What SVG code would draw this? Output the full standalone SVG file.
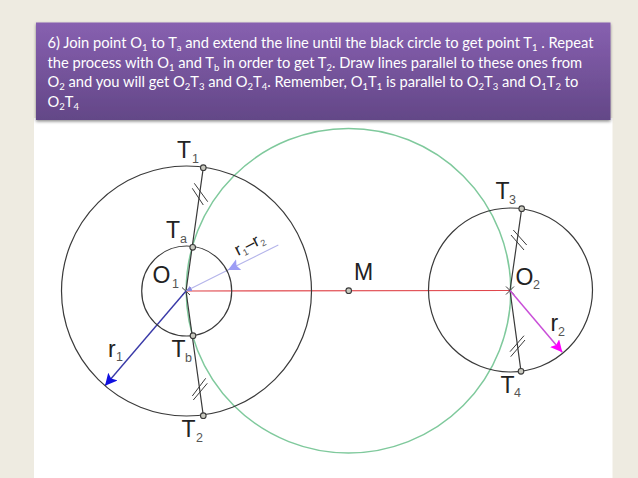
<svg xmlns="http://www.w3.org/2000/svg" width="638" height="478" viewBox="0 0 638 478">
<style>
.c{fill:none;stroke:#3a3a3a;stroke-width:1.2}
.l{stroke:#3a3a3a;stroke-width:1.2;fill:none}
.k{stroke:#3a3a3a;stroke-width:1;fill:none}
.p{fill:#c9c9bf;stroke:#3a3a3a;stroke-width:1.1}
.t{font-family:"Lato","Open Sans",sans-serif;font-size:14.700px;fill:#fff}
.s{font-size:9.500px}
.n{font-family:"Liberation Sans",Arial,sans-serif;font-size:23px;fill:#222}
.b{font-family:"Liberation Sans",Arial,sans-serif;font-size:12.500px;fill:#555}
</style>
<defs>
<linearGradient id="g" x1="0" y1="0" x2="0" y2="1"><stop offset="0" stop-color="#8760b0"/><stop offset="1" stop-color="#634787"/></linearGradient>
<filter id="sh" x="-3%" y="-8%" width="106%" height="118%"><feDropShadow dx="0" dy="1.500" stdDeviation="1.500" flood-color="#000" flood-opacity=".45"/></filter>
<marker id="a1" markerUnits="userSpaceOnUse" markerWidth="14" markerHeight="14" refX="12" refY="6" orient="auto"><path d="M0 0L12 6L0 12L2.500 6Z" fill="#1010e0"/></marker>
<marker id="a2" markerUnits="userSpaceOnUse" markerWidth="14" markerHeight="14" refX="12" refY="6" orient="auto"><path d="M0 0L12 6L0 12L2.500 6Z" fill="#ff00ff"/></marker>
<marker id="a3" markerUnits="userSpaceOnUse" markerWidth="14" markerHeight="14" refX="12" refY="6" orient="auto"><path d="M0 0L12 6L0 12L2.500 6Z" fill="#9d9df5"/></marker>
<marker id="a4" markerUnits="userSpaceOnUse" markerWidth="8" markerHeight="8" refX="6" refY="3" orient="auto"><path d="M0 0L6 3L0 6Z" fill="#8a8ae0"/></marker>
</defs>
<rect width="638" height="478" fill="#eeebe1"/>
<rect x="34" y="118" width="578.500" height="360" fill="#fff"/>
<g id="header">
<rect x="36" y="22.500" width="574.500" height="97.500" fill="url(#g)" filter="url(#sh)"/>
<text class="t" x="47.500" y="48">6) Join point O<tspan class="s" dy="3">1</tspan><tspan dy="-3"> to T</tspan><tspan class="s" dy="3">a</tspan><tspan dy="-3"> and extend the line until the black circle to get point T</tspan><tspan class="s" dy="3">1</tspan><tspan dy="-3"> . Repeat</tspan></text>
<text class="t" x="47.500" y="67.500">the process with O<tspan class="s" dy="3">1</tspan><tspan dy="-3"> and T</tspan><tspan class="s" dy="3">b</tspan><tspan dy="-3"> in order to get T</tspan><tspan class="s" dy="3">2</tspan><tspan dy="-3">. Draw lines parallel to these ones from</tspan></text>
<text class="t" x="47.500" y="87">O<tspan class="s" dy="3">2</tspan><tspan dy="-3"> and you will get O</tspan><tspan class="s" dy="3">2</tspan><tspan dy="-3">T</tspan><tspan class="s" dy="3">3</tspan><tspan dy="-3"> and O</tspan><tspan class="s" dy="3">2</tspan><tspan dy="-3">T</tspan><tspan class="s" dy="3">4</tspan><tspan dy="-3">. Remember, O</tspan><tspan class="s" dy="3">1</tspan><tspan dy="-3">T</tspan><tspan class="s" dy="3">1</tspan><tspan dy="-3"> is parallel to O</tspan><tspan class="s" dy="3">2</tspan><tspan dy="-3">T</tspan><tspan class="s" dy="3">3</tspan><tspan dy="-3"> and O</tspan><tspan class="s" dy="3">1</tspan><tspan dy="-3">T</tspan><tspan class="s" dy="3">2</tspan><tspan dy="-3"> to</tspan></text>
<text class="t" x="47.500" y="106.500">O<tspan class="s" dy="3">2</tspan><tspan dy="-3">T</tspan><tspan class="s" dy="3">4</tspan></text>
</g>
<g id="connectors">
<circle cx="348.500" cy="290.700" r="162.300" fill="none" stroke="#7fc99c" stroke-width="1.500"/>
<line x1="186" y1="291" x2="510" y2="290.500" stroke="#e0474c" stroke-width="1.200"/>
<path class="l" d="M203.300 167.700L186 291L203.300 415.700"/>
<path class="l" d="M521.700 208.700L510 290.500L521 371.300"/>
<path class="k" d="M192.300 188.300L203.300 205M194.300 183.300L207.700 201.700M192.300 396L205.700 378.300M193.300 400L207.300 383.300M511 235L524 250M513.300 230L526.700 245M510 351.700L524 335.700M510.700 356.700L525 340"/>
<path class="k" d="M182 287.500L190 295M182 295L190 287.500M506 294.500L514 286.500M506 286.500L514 294.500"/>
<line x1="186" y1="291" x2="105" y2="385.700" stroke="#3a3aa8" stroke-width="1.400" marker-end="url(#a1)"/>
<line x1="510" y1="290.500" x2="562.300" y2="352.300" stroke="#c94fd8" stroke-width="1.500" marker-end="url(#a2)"/>
<line x1="278.300" y1="245" x2="228" y2="270" stroke="#b4b4ea" stroke-width="1.100" marker-end="url(#a3)"/>
<line x1="228" y1="270" x2="186" y2="291" stroke="#b4b4ea" stroke-width="1.100" marker-end="url(#a4)"/>
</g>
<g id="circle-o1-outer"><circle class="c" cx="186.500" cy="291" r="125"/></g>
<g id="circle-o1-inner"><circle class="c" cx="186.700" cy="291" r="45"/></g>
<g id="circle-o2"><circle class="c" cx="510.500" cy="290" r="82"/></g>
<g id="T1"><circle class="p" cx="203.300" cy="167.700" r="2.800"/><text class="n" x="177" y="158">T</text><text class="b" x="192" y="163">1</text></g>
<g id="Ta"><circle class="p" cx="192.700" cy="247.300" r="2.800"/><text class="n" x="166" y="238">T</text><text class="b" x="180" y="243">a</text></g>
<g id="O1"><text class="n" x="152.500" y="283">O</text><text class="b" x="172" y="288">1</text></g>
<g id="Tb"><circle class="p" cx="193" cy="335.700" r="2.800"/><text class="n" x="171.500" y="356.700">T</text><text class="b" x="185" y="362">b</text></g>
<g id="T2"><circle class="p" cx="203.300" cy="415.700" r="2.800"/><text class="n" x="181.500" y="437">T</text><text class="b" x="196" y="442">2</text></g>
<g id="T3"><circle class="p" cx="521.700" cy="208.700" r="2.800"/><text class="n" x="495.500" y="199">T</text><text class="b" x="509" y="204">3</text></g>
<g id="T4"><circle class="p" cx="521" cy="371.300" r="2.800"/><text class="n" x="500.500" y="392.700">T</text><text class="b" x="514" y="396.700">4</text></g>
<g id="O2"><text class="n" x="515.500" y="285">O</text><text class="b" x="533" y="289">2</text></g>
<g id="M"><circle class="p" cx="348.700" cy="290.700" r="2.800"/><text class="n" x="354" y="280">M</text></g>
<g id="r1"><text class="n" x="108" y="356.700">r</text><text class="b" x="116" y="361">1</text></g>
<g id="r2"><text class="n" x="550.500" y="331">r</text><text class="b" x="558" y="335.700">2</text></g>
<g id="r1-r2" transform="translate(238 256) rotate(-27)"><text class="n" x="0" y="0" style="font-size:17px">r</text><text class="b" x="6" y="3" style="font-size:9px">1</text><text class="n" x="11" y="0" style="font-size:17px">–</text><text class="n" x="20" y="0" style="font-size:17px">r</text><text class="b" x="26" y="3" style="font-size:9px">2</text></g>
</svg>
